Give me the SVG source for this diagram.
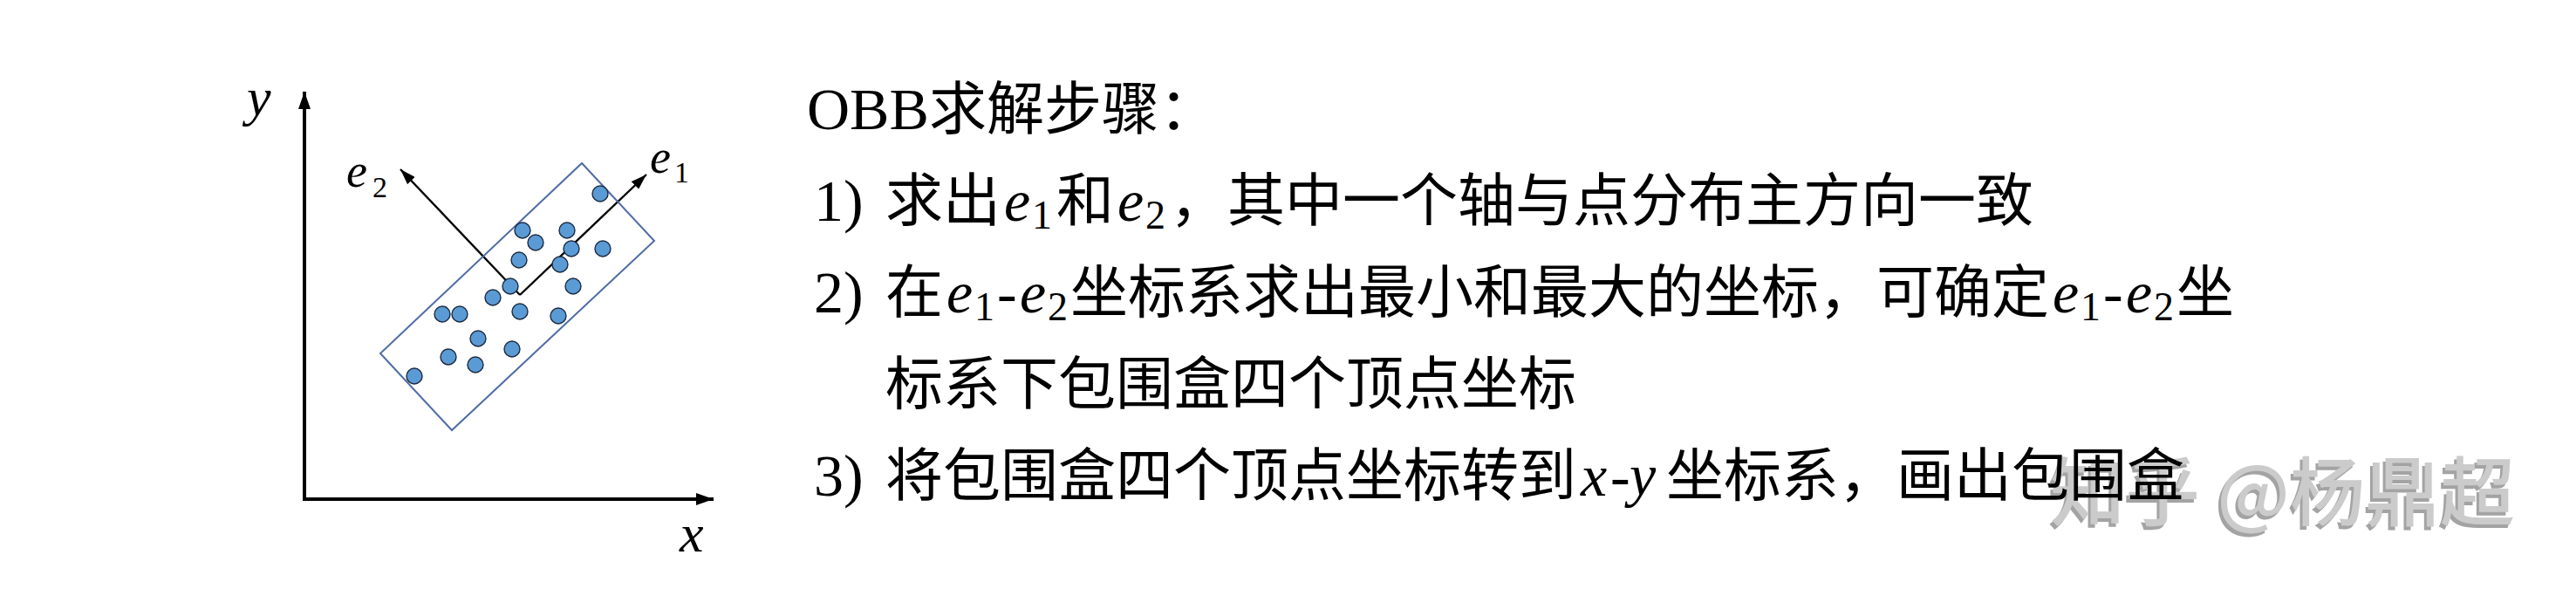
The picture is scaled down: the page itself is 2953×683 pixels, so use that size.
<svg xmlns="http://www.w3.org/2000/svg" width="2953" height="683" viewBox="0 0 2953 683">
<style>
.cjk{font-family:"Noto Sans CJK SC","Liberation Sans",sans-serif;font-size:66px;fill:#000}
.lat{font-family:"Liberation Serif",serif;font-size:68px;fill:#000}
.mi{font-family:"Liberation Serif",serif;font-style:italic;font-size:68px;fill:#000}
.sub{font-family:"Liberation Serif",serif;font-size:46px;fill:#000}
.lbl{font-family:"Liberation Serif",serif;font-style:italic;font-size:62px;fill:#000}
.elbl{font-family:"Liberation Serif",serif;font-style:italic;font-size:54px;fill:#000}
.esub{font-family:"Liberation Serif",serif;font-size:34px;fill:#000}
.dot{fill:#5b9bd5;stroke:#1c2a40;stroke-width:1.4}
.axis{stroke:#000;stroke-width:4;fill:none}
.vec{stroke:#000;stroke-width:2.4;fill:none}
.wm{font-family:"Noto Sans CJK SC","Liberation Sans",sans-serif;font-size:86px;font-weight:500}
</style>
<defs>
<marker id="ah" viewBox="0 0 20 14" refX="20" refY="7" markerWidth="20" markerHeight="14" markerUnits="userSpaceOnUse" orient="auto"><path d="M0,0 L20,7 L0,14 Z" fill="#000"/></marker>
<marker id="ahs" viewBox="0 0 18 12" refX="18" refY="6" markerWidth="18" markerHeight="12" markerUnits="userSpaceOnUse" orient="auto"><path d="M0,0 L18,6 L0,12 Z" fill="#000"/></marker>
</defs>
<rect width="2953" height="683" fill="#fff"/>
<g id="connectors">
<line class="axis" x1="349" y1="572" x2="349" y2="105" marker-end="url(#ah)"/>
<line class="axis" x1="347" y1="572" x2="818" y2="572" marker-end="url(#ah)"/>
<line class="vec" x1="596" y1="338" x2="741" y2="200" marker-end="url(#ahs)"/>
<line class="vec" x1="596" y1="338" x2="459" y2="194" marker-end="url(#ahs)"/>
</g>
<g id="obb-box">
<polygon points="667,187 750,276 518,493 436,405" fill="none" stroke="#4f6ca6" stroke-width="2"/>
</g>
<g id="points">
<circle class="dot" cx="688" cy="222" r="9"/>
<circle class="dot" cx="599" cy="264" r="9"/>
<circle class="dot" cx="650" cy="264" r="9"/>
<circle class="dot" cx="614" cy="278" r="9"/>
<circle class="dot" cx="655" cy="285" r="9"/>
<circle class="dot" cx="691" cy="285" r="9"/>
<circle class="dot" cx="595" cy="298" r="9"/>
<circle class="dot" cx="642" cy="303" r="9"/>
<circle class="dot" cx="585" cy="328" r="9"/>
<circle class="dot" cx="657" cy="328" r="9"/>
<circle class="dot" cx="565" cy="341" r="9"/>
<circle class="dot" cx="507" cy="360" r="9"/>
<circle class="dot" cx="527" cy="360" r="9"/>
<circle class="dot" cx="596" cy="357" r="9"/>
<circle class="dot" cx="640" cy="362" r="9"/>
<circle class="dot" cx="548" cy="388" r="9"/>
<circle class="dot" cx="514" cy="409" r="9"/>
<circle class="dot" cx="587" cy="400" r="9"/>
<circle class="dot" cx="545" cy="418" r="9"/>
<circle class="dot" cx="475" cy="431" r="9"/>
</g>
<g id="axis-labels">
<text class="lbl" x="283" y="132">y</text>
<text class="lbl" x="779" y="632">x</text>
<text x="397" y="214"><tspan class="elbl">e</tspan><tspan class="esub" x="427" y="226">2</tspan></text>
<text x="745" y="198"><tspan class="elbl">e</tspan><tspan class="esub" x="773" y="209">1</tspan></text>
</g>
<g id="watermark">
<text class="wm" x="2347" y="600" fill="#a3a3a3">知乎 @杨鼎超</text>
<text class="wm" x="2350" y="596" fill="#cbcbcb">知乎 @杨鼎超</text>
</g>
<g id="steps">
<text id="title" y="148"><tspan class="lat" x="925">OBB</tspan><tspan class="cjk" x="1065">求解步骤：</tspan></text>
<text id="step1" y="253"><tspan class="lat" x="933">1)</tspan><tspan class="cjk" x="1015">求出</tspan><tspan class="mi" x="1151">e</tspan><tspan class="sub" x="1183" y="262">1</tspan><tspan class="cjk" x="1211" y="253">和</tspan><tspan class="mi" x="1281">e</tspan><tspan class="sub" x="1313" y="262">2</tspan><tspan class="cjk" x="1341" y="253">，其中一个轴与点分布主方向一致</tspan></text>
<text id="step2" y="358"><tspan class="lat" x="933">2)</tspan><tspan class="cjk" x="1015">在</tspan><tspan class="mi" x="1085">e</tspan><tspan class="sub" x="1117" y="367">1</tspan><tspan class="lat" x="1143" y="358">-</tspan><tspan class="mi" x="1169">e</tspan><tspan class="sub" x="1201" y="367">2</tspan><tspan class="cjk" x="1227" y="358">坐标系求出最小和最大的坐标，可确定</tspan><tspan class="mi" x="2353">e</tspan><tspan class="sub" x="2385" y="367">1</tspan><tspan class="lat" x="2411" y="358">-</tspan><tspan class="mi" x="2437">e</tspan><tspan class="sub" x="2469" y="367">2</tspan><tspan class="cjk" x="2495" y="358">坐</tspan></text>
<text id="step2b" class="cjk" x="1015" y="463">标系下包围盒四个顶点坐标</text>
<text id="step3" y="568"><tspan class="lat" x="933">3)</tspan><tspan class="cjk" x="1015">将包围盒四个顶点坐标转到</tspan><tspan class="mi" x="1812">x</tspan><tspan class="lat" x="1846">-</tspan><tspan class="mi" x="1868">y</tspan><tspan class="cjk" x="1910">坐标系，画出包围盒</tspan></text>
</g>
</svg>
